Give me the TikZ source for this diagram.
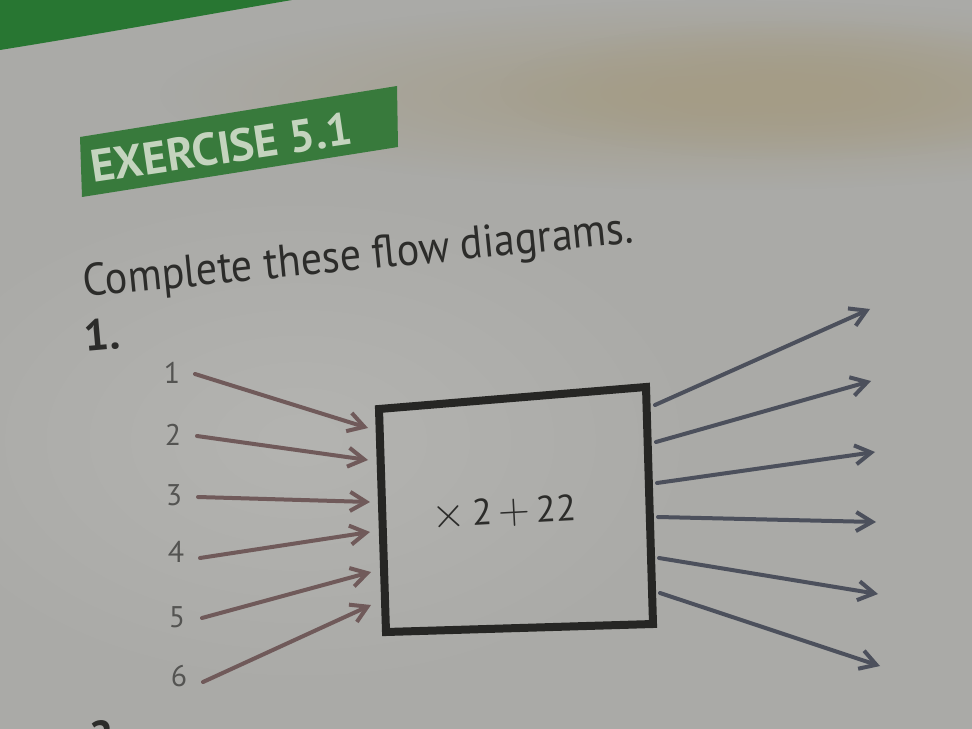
\documentclass[tikz,border=0pt]{standalone}
\usepackage{fontspec}
\setmainfont{PT Sans}
\usetikzlibrary{arrows.meta,fadings}
\definecolor{paper}{RGB}{170,170,167}
\definecolor{paperlight}{RGB}{180,180,177}
\definecolor{beige}{RGB}{164,156,134}
\definecolor{bandgreen}{RGB}{40,118,50}
\definecolor{headgreen}{RGB}{56,122,60}
\definecolor{headtext}{RGB}{196,212,190}
\definecolor{inktext}{RGB}{44,44,42}
\definecolor{numgrey}{RGB}{84,84,82}
\definecolor{inbrown}{RGB}{112,90,90}
\definecolor{outblue}{RGB}{76,80,92}
\definecolor{boxink}{RGB}{38,38,36}
\tikzfading[name=softedge, inner color=transparent!0, outer color=transparent!100]
\begin{document}
\begin{tikzpicture}[x=0.02cm,y=-0.02cm,
  num/.style={text=numgrey, font=\fontsize{17}{19}\selectfont, inner sep=1pt},
  inarrow/.style={draw=inbrown, line width=0.08cm, line cap=round,
    -{Straight Barb[length=0.32cm,width=0.38cm]}},
  outarrow/.style={draw=outblue, line width=0.08cm, line cap=round,
    -{Straight Barb[length=0.32cm,width=0.38cm]}},
  boxline/.style={draw=boxink, line width=0.16cm, line join=miter}]
\useasboundingbox (0,0) rectangle (972,729);
\clip (0,0) rectangle (972,729);
% paper
\fill[paper] (0,0) rectangle (972,729);
\fill[paperlight, path fading=softedge] (300,440) ellipse [x radius=420, y radius=260];
\fill[beige, path fading=softedge] (720,95) ellipse [x radius=560, y radius=95];
\fill[beige, path fading=softedge] (800,90) ellipse [x radius=300, y radius=70];
% top green band
\fill[bandgreen] (0,0) -- (292,0) .. controls (210,14) and (100,34) .. (0,50) -- cycle;
% heading
\fill[headgreen] (80,137) -- (397,86) -- (398,147) -- (82,197) -- cycle;
\node[anchor=base west, rotate=8.5, inner sep=0pt, text=headtext,
  font=\fontsize{26}{28}\selectfont\bfseries] (head) at (93,183) {EXERCISE 5.1};
\node[anchor=base west, rotate=5.6, inner sep=0pt, text=inktext,
  font=\fontsize{26}{28}\selectfont] (instr) at (84,297) {\scalebox{0.92}[1]{Complete these flow diagrams.}};
\node[anchor=base west, rotate=5, inner sep=0pt, text=inktext,
  font=\fontsize{25}{27}\selectfont\bfseries] (q1) at (85,352) {1.};
\node[anchor=base west, rotate=3, inner sep=0pt, text=inktext,
  font=\fontsize{25}{27}\selectfont\bfseries] (q2) at (90,753) {2.};
% inputs
\node[num] (n1) at (172,373) {1};
\node[num] (n2) at (173,435) {2};
\node[num] (n3) at (174,495) {3};
\node[num] (n4) at (176,552) {4};
\node[num] (n5) at (177,617) {5};
\node[num] (n6) at (179,676) {6};
% box
\coordinate (bTL) at (379,409);
\coordinate (bTR) at (646,387);
\coordinate (bBR) at (653,624);
\coordinate (bBL) at (386,632);
\draw[boxline] (bTL) -- (bTR) -- (bBR) -- (bBL) -- cycle;
\node[rotate=3, text=inktext, font=\fontsize{21}{23}\selectfont] (rule) at (504,513)
  {{\fontsize{24}{24}\selectfont$\times$}\,2\,{\fontsize{24}{24}\selectfont$+$}\,22};
% input arrows
\coordinate (s1) at (195,374); \coordinate (e1) at (368,428);
\coordinate (s2) at (197,436); \coordinate (e2) at (368,460);
\coordinate (s3) at (198,497); \coordinate (e3) at (370,502);
\coordinate (s4) at (200,558); \coordinate (e4) at (370,532);
\coordinate (s5) at (202,618); \coordinate (e5) at (371,572);
\coordinate (s6) at (203,682); \coordinate (e6) at (371,605);
\foreach \i in {1,...,6} {\draw[inarrow] (s\i) -- (e\i);}
% output arrows
\coordinate (o1) at (655,405); \coordinate (t1) at (870,309);
\coordinate (o2) at (656,442); \coordinate (t2) at (871,381);
\coordinate (o3) at (657,483); \coordinate (t3) at (875,452);
\coordinate (o4) at (658,517); \coordinate (t4) at (876,522);
\coordinate (o5) at (659,558); \coordinate (t5) at (878,594);
\coordinate (o6) at (660,593); \coordinate (t6) at (880,666);
\foreach \i in {1,...,6} {\draw[outarrow] (o\i) -- (t\i);}
\end{tikzpicture}
\end{document}
